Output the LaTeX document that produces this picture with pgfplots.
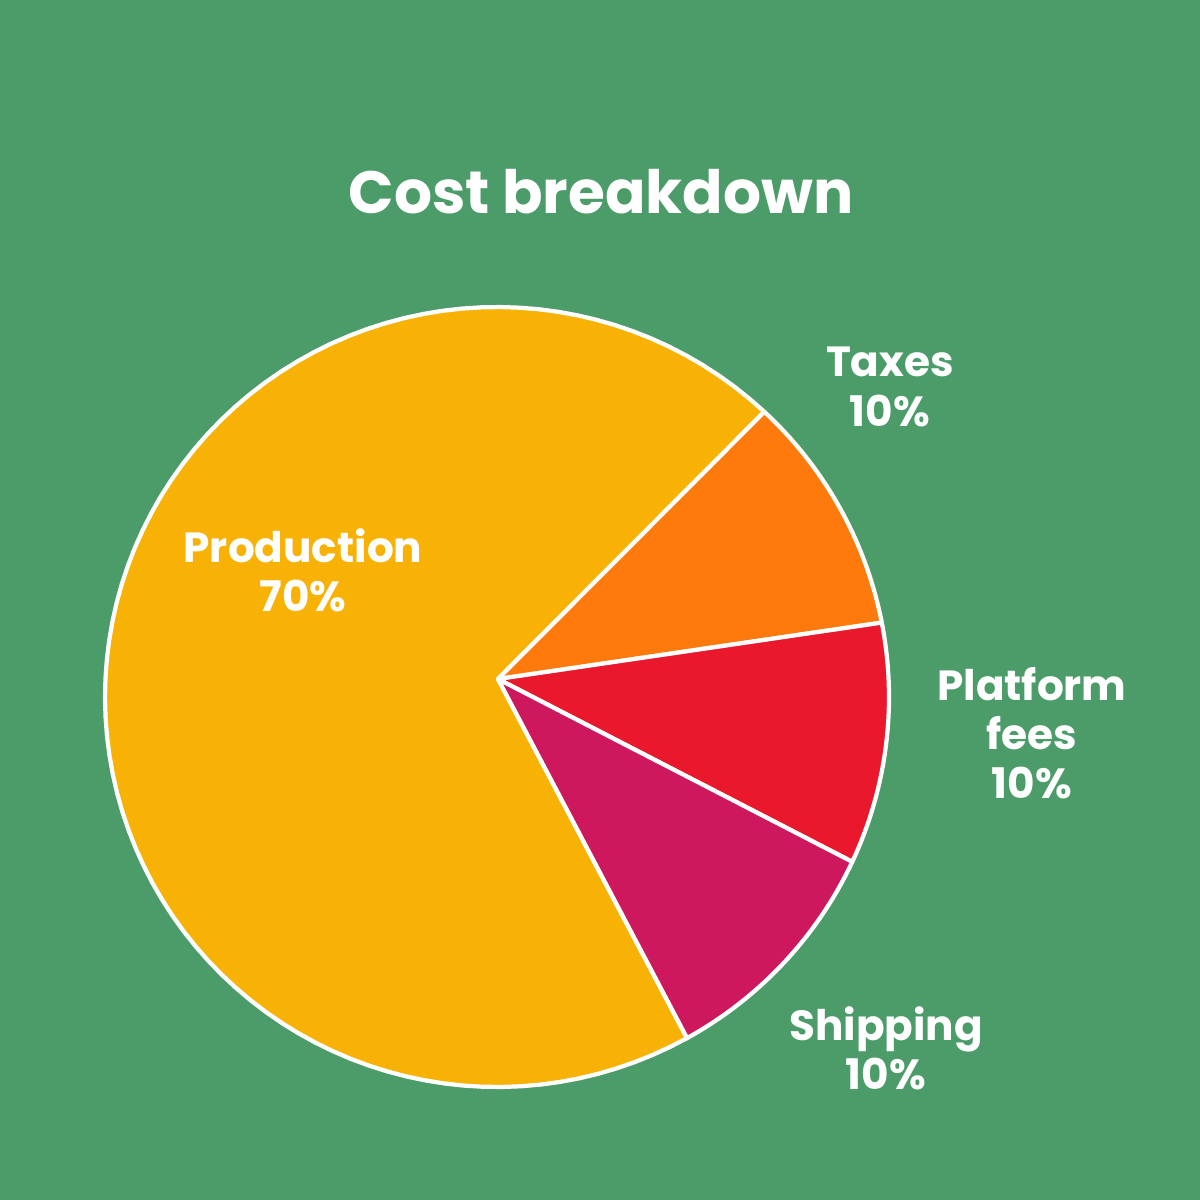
\documentclass[border=0pt]{standalone}
\usepackage{pgfplots}
\pgfplotsset{compat=1.18}
\usepackage{fontspec}
\setmainfont{Poppins}
\definecolor{bg}{HTML}{4C9C69}
\definecolor{cprod}{HTML}{F7B205}
\definecolor{ctax}{HTML}{FE7A0C}
\definecolor{cfee}{HTML}{E9182D}
\definecolor{cship}{HTML}{CD185E}

% shares in percent (counter-clockwise from the start angle)
\def\vship{10}
\def\vfee{10}
\def\vtax{10}
\def\vprod{70}
\def\startang{-61}
\pgfmathsetmacro{\aA}{\startang}
\pgfmathsetmacro{\aB}{\aA+3.6*\vship}
\pgfmathsetmacro{\aC}{\aB+3.6*\vfee}
\pgfmathsetmacro{\aD}{\aC+3.6*\vtax}
\pgfmathsetmacro{\aE}{\aD+3.6*\vprod}

\tikzset{slice/.style={draw=white, line width=1.2pt, line join=round, samples=90, variable=\t},
  lbl/.style={text=white, font=\fontsize{12}{14}\selectfont\bfseries, align=center}}

\begin{document}
\begin{tikzpicture}
\fill[bg] (0,0) rectangle (12cm,12cm);
\begin{axis}[at={(0,0)}, anchor=south west, width=12cm, height=12cm, scale only axis,
  xmin=0, xmax=1200, ymin=0, ymax=1200, y dir=reverse, hide axis, clip=false]
\addplot[slice, fill=cprod, domain=\aD:\aE] ({497+392*cos(\t)},{697-390*sin(\t)}) -- (axis cs:498,679) -- cycle;
\addplot[slice, fill=ctax, domain=\aC:\aD] ({497+392*cos(\t)},{697-390*sin(\t)}) -- (axis cs:498,679) -- cycle;
\addplot[slice, fill=cfee, domain=\aB:\aC] ({497+392*cos(\t)},{697-390*sin(\t)}) -- (axis cs:498,679) -- cycle;
\addplot[slice, fill=cship, domain=\aA:\aB] ({497+392*cos(\t)},{697-390*sin(\t)}) -- (axis cs:498,679) -- cycle;
\node[text=white, font=\fontsize{17}{20}\selectfont\bfseries] at (axis cs:601,192) {Cost breakdown};
\node[lbl] at (axis cs:303,570) {Production\\\vprod\%};
\node[lbl] at (axis cs:890,387) {Taxes\\\vtax\%};
\node[lbl] at (axis cs:1032,733) {Platform\\fees\\\vfee\%};
\node[lbl] at (axis cs:886,1048) {Shipping\\\vship\%};
\end{axis}
\end{tikzpicture}
\end{document}
